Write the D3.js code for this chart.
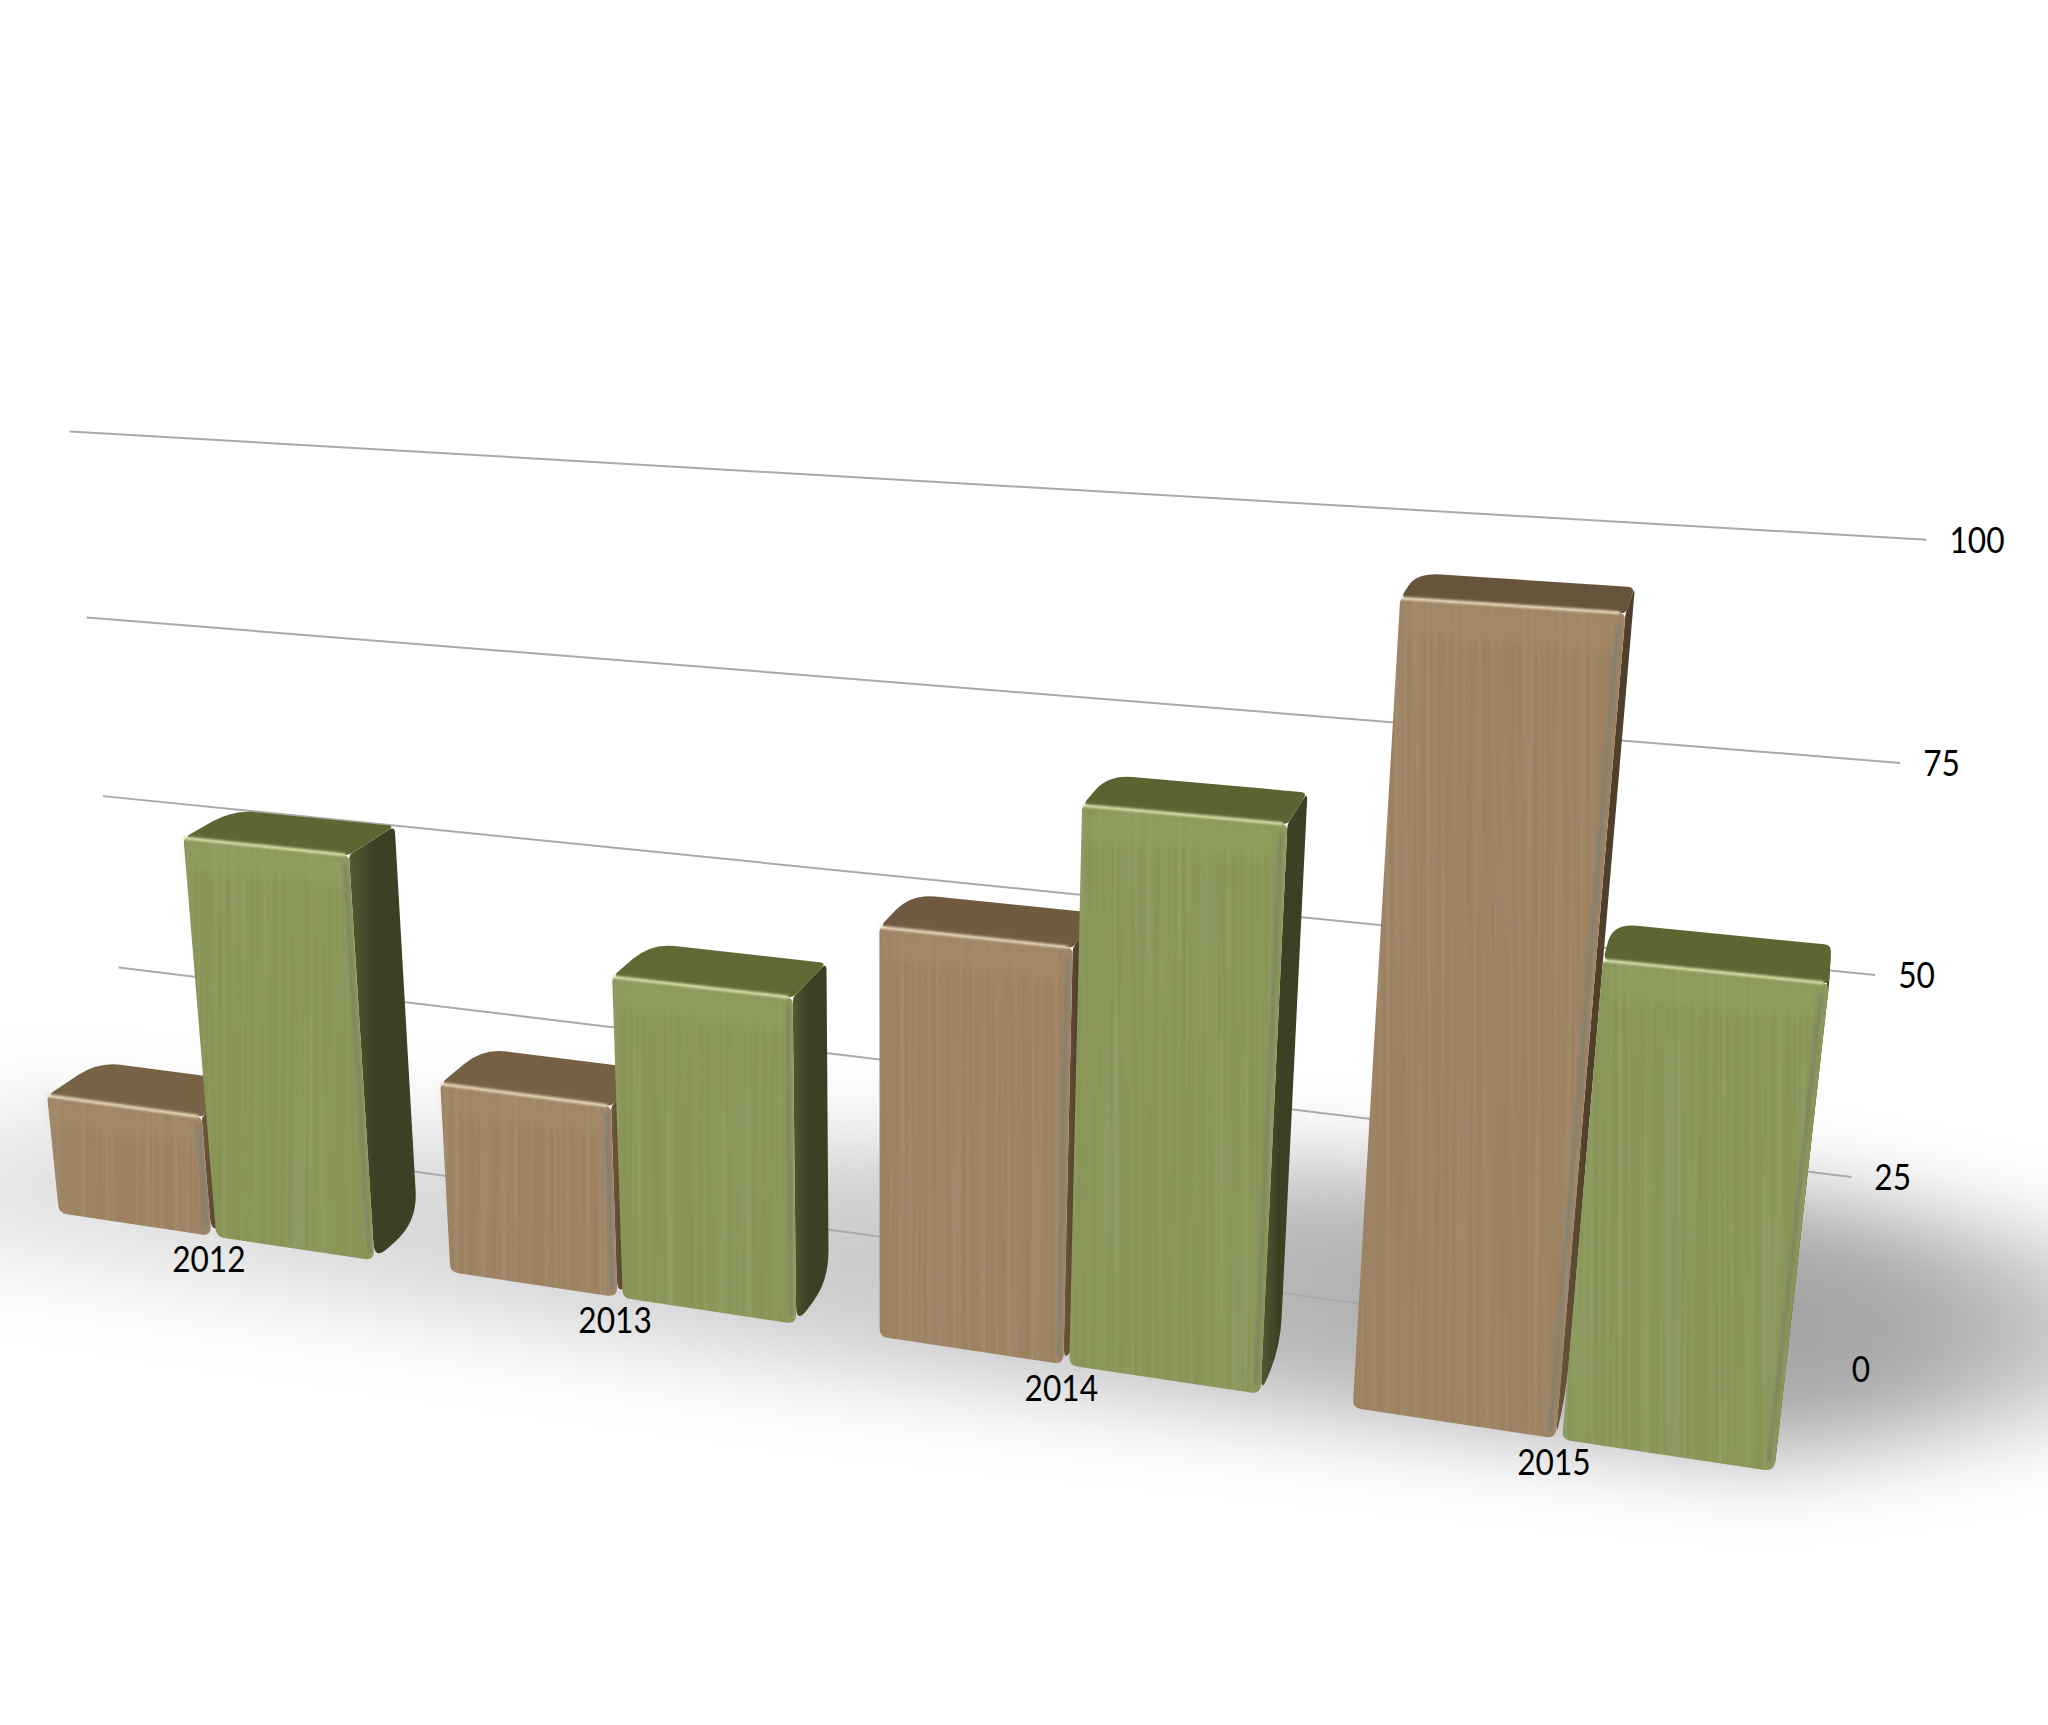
<!DOCTYPE html>
<html>
<head>
<meta charset="utf-8">
<script src="https://cdn.jsdelivr.net/npm/d3@7"></script>
<style>
  html, body { margin: 0; padding: 0; background: #fff; }
  svg { display: block; }
  text { font-family: Lato, "Open Sans", sans-serif; fill: #000; }
</style>
</head>
<body>
<svg id="chart" width="2048" height="1725"></svg>
<script>
// ————— Data —————
const years = ['2012', '2013', '2014', '2015'];
const seriesNames = ['brown', 'green'];
const brownValues = [17, 26, 53, 96];
const greenValues = [55, 43, 70, 58];
const valueTicks = [0, 25, 50, 75, 100];
// ————————————————

// Perspective camera: three vanishing points and the weights along each axis
const vpX = [-8417, -64], vpY = [885, 9374], vpZ = [1894, -131];
const origin = [59, 1213];
const wX = -0.1683, wY = -0.0834, wZ = 0.028;
const wallZ = 2.157;

function project(X, Y, Z) {
  const a = X * wX, b = Y * wY, c = Z * wZ;
  const w = 1 + a + b + c;
  return [
    (a * vpX[0] + b * vpY[0] + c * vpZ[0] + origin[0]) / w,
    (a * vpX[1] + b * vpY[1] + c * vpZ[1] + origin[1]) / w
  ];
}

const xYear = d3.scaleBand().domain(years).range([0, 1]).paddingInner(0.187);
const xSeries = d3.scaleBand().domain(seriesNames).range([0, xYear.bandwidth()]).paddingInner(0.03);
const y = d3.scaleLinear().domain([0, 100]).range([0, 1]);

const palette = {
  brown: { front: '#9b8161', frontHi: '#a68c6b', top: '#7c6548', side: '#4f3f2b', edge: '#85806f', shine: '#e8d8bc' },
  green: { front: '#889556', frontHi: '#92a060', top: '#687239', side: '#3c4024', edge: '#7f8660', shine: '#d9dfa8' }
};

const svg = d3.select('#chart');
const defs = svg.append('defs');

[['blurShadow', 46], ['blurSoft', 1.2], ['blurBand', 6], ['blurEdge', 1.8]].forEach(([id, dev]) => {
  defs.append('filter').attr('id', id)
    .attr('x', '-30%').attr('y', '-30%').attr('width', '160%').attr('height', '160%')
    .append('feGaussianBlur').attr('stdDeviation', dev);
});

// faint vertical brushing on the front faces
const brushed = defs.append('filter').attr('id', 'brushed')
  .attr('x', '0').attr('y', '0').attr('width', '100%').attr('height', '100%');
brushed.append('feTurbulence').attr('type', 'fractalNoise')
  .attr('baseFrequency', '0.22 0.002').attr('numOctaves', 2).attr('seed', 4).attr('result', 'noise');
brushed.append('feColorMatrix').attr('in', 'noise').attr('type', 'matrix')
  .attr('values', '0 0 0 0 1  0 0 0 0 1  0 0 0 0 0.85  0.12 0 0 0 -0.045').attr('result', 'streaks');
brushed.append('feComposite').attr('in', 'streaks').attr('in2', 'SourceAlpha')
  .attr('operator', 'in').attr('result', 'clipped');
const brushedMerge = brushed.append('feMerge');
brushedMerge.append('feMergeNode').attr('in', 'SourceGraphic');
brushedMerge.append('feMergeNode').attr('in', 'clipped');

const shadowGrad = defs.append('linearGradient').attr('id', 'shadowGrad');
[[0, '#000', 0.09], [0.45, '#000', 0.2], [0.8, '#000', 0.36], [0.9, '#000', 0.34], [1, '#000', 0.16]].forEach(([o, c, a]) => {
  shadowGrad.append('stop').attr('offset', o).attr('stop-color', c).attr('stop-opacity', a);
});

seriesNames.forEach(s => {
  const g = defs.append('linearGradient').attr('id', 'side-' + s);
  g.append('stop').attr('offset', 0).attr('stop-color', d3.color(palette[s].side).brighter(0.9));
  g.append('stop').attr('offset', 0.4).attr('stop-color', palette[s].side);
  g.append('stop').attr('offset', 1).attr('stop-color', palette[s].side);
});

// polygon with individually rounded corners
function roundedPath(pts, radii) {
  const n = pts.length;
  let d = '';
  pts.forEach((p, i) => {
    const prev = pts[(i + n - 1) % n], next = pts[(i + 1) % n];
    const r = radii[i];
    const toward = q => {
      const dx = q[0] - p[0], dy = q[1] - p[1], len = Math.hypot(dx, dy);
      const t = Math.min(r, len / 2) / len;
      return [p[0] + dx * t, p[1] + dy * t];
    };
    const a = toward(prev), b = toward(next);
    d += `${i ? 'L' : 'M'}${a[0]},${a[1]}Q${p[0]},${p[1]} ${b[0]},${b[1]}`;
  });
  return d + 'Z';
}

const lineGen = d3.line();

// floor shadow
const floorPts = [
  project(-0.12, 0, -1.2), project(0.5, 0, -0.75), project(1, 0, 0.3), project(1.18, 0, 2.4),
  project(1.18, 0, 5.6), project(1, 0, 6.2), project(0.5, 0, 4.6), project(0, 0, 2.6), project(-0.12, 0, 2.6)
];
svg.append('path')
  .attr('d', lineGen(floorPts) + 'Z')
  .attr('fill', 'url(#shadowGrad)')
  .attr('filter', 'url(#blurShadow)');

// gridlines on the back wall
const gridX = [-0.022, 1.024];
const grid = svg.append('g');
valueTicks.forEach(t => {
  grid.append('path')
    .attr('d', lineGen(gridX.map(X => project(X, y(t), wallZ))))
    .attr('fill', 'none')
    .attr('stroke', '#aaaaaa')
    .attr('stroke-width', 2);
  const end = project(gridX[1], y(t), wallZ);
  grid.append('text')
    .attr('transform', `translate(${end[0] + 23},${end[1]}) scale(0.88,1)`)
    .attr('dy', '0.36em')
    .attr('font-size', 36)
    .text(t);
});

// bars, left to right so the nearer ones cover the farther ones
function drawBar(parent, year, series, value) {
  const c = palette[series];
  const x0 = xYear(year) + xSeries(series);
  const x1 = x0 + xSeries.bandwidth();
  const v = y(value);

  const fTL = project(x0, v, 0), fTR = project(x1, v, 0), fBR = project(x1, 0, 0), fBL = project(x0, 0, 0);
  const bTL = project(x0, v, 1), bTR = project(x1, v, 1), bBR = project(x1, 0, 1);

  const g = parent.append('g');

  g.append('path')
    .attr('d', roundedPath([fTR, bTR, bBR, fBR], [4, 7, 30, 18]))
    .attr('fill', `url(#side-${series})`);

  // taller bars catch less light on top
  g.append('path')
    .attr('d', roundedPath([fTL, bTL, bTR, fTR], [8, 24, 7, 4]))
    .attr('fill', d3.color(c.top).darker(value / 100 * 0.55));

  g.append('path')
    .attr('d', roundedPath([fTL, fTR, fBR, fBL], [5, 7, 10, 8]))
    .attr('fill', c.front)
    .attr('filter', 'url(#brushed)');

  // lighter band just under the front top edge
  const bandDrop = y(Math.min(value * 0.5, 4));
  g.append('path')
    .attr('d', lineGen([
      project(x0 + 0.004, v - 0.004, 0), project(x1 - 0.004, v - 0.004, 0),
      project(x1 - 0.004, v - bandDrop, 0), project(x0 + 0.004, v - bandDrop, 0)
    ]) + 'Z')
    .attr('fill', c.frontHi)
    .attr('opacity', 0.6)
    .attr('filter', 'url(#blurBand)');

  // bevel on the right edge of the front face
  g.append('path')
    .attr('d', lineGen([project(x1 - 0.003, v - 0.012, 0), project(x1 - 0.003, 0.01, 0)]))
    .attr('fill', 'none')
    .attr('stroke', c.edge)
    .attr('stroke-width', 4)
    .attr('filter', 'url(#blurEdge)');

  // shine along the top front edge
  g.append('path')
    .attr('d', lineGen([project(x0 + 0.001, v, 0), project(x1 - 0.003, v, 0)]))
    .attr('fill', 'none')
    .attr('stroke', c.shine)
    .attr('stroke-width', 3)
    .attr('stroke-linecap', 'round')
    .attr('filter', 'url(#blurSoft)');
}

const bars = svg.append('g');
years.forEach((year, i) => {
  drawBar(bars, year, 'brown', brownValues[i]);
  drawBar(bars, year, 'green', greenValues[i]);
});

// category labels under each pair
const labels = svg.append('g');
years.forEach(year => {
  const p = project(xYear(year) + xYear.bandwidth() / 2, 0, 0);
  labels.append('text')
    .attr('transform', `translate(${p[0] - 5},${p[1] + 23}) scale(0.88,1)`)
    .attr('text-anchor', 'middle')
    .attr('dy', '0.36em')
    .attr('font-size', 36)
    .text(year);
});
</script>
</body>
</html>
